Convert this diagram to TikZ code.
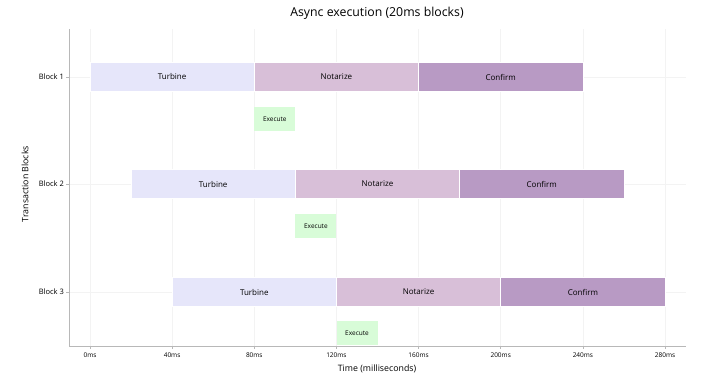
\documentclass[tikz,border=0pt]{standalone}
\usepackage{fontspec}
\setmainfont{Open Sans}
\usepackage{tikz}
\usetikzlibrary{positioning}
\definecolor{turbc}{HTML}{E6E6FA}
\definecolor{notac}{HTML}{D8BFD8}
\definecolor{confc}{HTML}{B89AC4}
\definecolor{execc}{HTML}{D8FCD8}
\definecolor{gridc}{HTML}{F3F3F3}
\definecolor{axisc}{HTML}{B8B8B8}
\tikzstyle{phase}=[draw=white, line width=.6pt, minimum height=29pt, minimum width=164.3pt, inner sep=0pt, font=\fontsize{8}{9}\selectfont]
\tikzstyle{turbine}=[phase, fill=turbc]
\tikzstyle{notarize}=[phase, fill=notac]
\tikzstyle{confirm}=[phase, fill=confc]
\tikzstyle{execbox}=[fill=execc, minimum width=41pt, minimum height=24pt, inner sep=0pt, font=\fontsize{6.5}{7}\selectfont]
\tikzstyle{tick}=[font=\fontsize{6.5}{7}\selectfont, inner sep=1pt]
\tikzstyle{rowlabel}=[font=\fontsize{7.5}{8}\selectfont, anchor=east, inner sep=1pt]

\begin{document}
\begin{tikzpicture}[x=1pt, y=-1pt]

      \useasboundingbox (0,0) rectangle (725,385);

      % grid
      \foreach \gx in {90,172.1,254.3,336.4,418.6,500.7,582.9,665}
        \draw[gridc, line width=.5pt] (\gx,29) -- (\gx,346);
      \foreach \gy in {77,184,292}
        \draw[gridc, line width=.5pt] (69,\gy) -- (686,\gy);

      % block 1
      \node[turbine] (t1) at (172.1,77) {Turbine};
      \node[notarize] (n1) at (336.4,77) {Notarize};
      \node[confirm] (c1) at (500.7,77) {Confirm};
      \node[execbox] (e1) at (274.8,119) {Execute};

      % block 2
      \node[turbine] (t2) at (213.2,184) {Turbine};
      \node[notarize] (n2) at (377.5,184) {Notarize};
      \node[confirm] (c2) at (541.8,184) {Confirm};
      \node[execbox] (e2) at (315.9,226) {Execute};

      % block 3
      \node[turbine] (t3) at (254.3,292) {Turbine};
      \node[notarize] (n3) at (418.6,292) {Notarize};
      \node[confirm] (c3) at (582.9,292) {Confirm};
      \node[execbox] (e3) at (357,333) {Execute};

      % axes
      \coordinate (o) at (69,346);
      \coordinate (ytop) at (69,29);
      \coordinate (xend) at (686,346);
      \draw[axisc, line width=.8pt] (ytop) -- (o) -- (xend);

      \foreach \gx/\lab in {90/0ms,172.1/40ms,254.3/80ms,336.4/120ms,418.6/160ms,500.7/200ms,582.9/240ms,665/280ms}
      {
        \draw[axisc, line width=.6pt] (\gx,346) -- (\gx,349);
        \node[tick] at (\gx,355) {\lab};
      }
      \foreach \gy/\lab in {77/Block 1,184/Block 2,292/Block 3}
      {
        \draw[axisc, line width=.6pt] (66,\gy) -- (69,\gy);
        \node[rowlabel] at (65,\gy) {\lab};
      }

      \node[font=\fontsize{12.3}{14}\selectfont] (title) at (377,13) {Async execution (20ms blocks)};
      \node[font=\fontsize{8.8}{10}\selectfont] (xlab) at (377,369) {Time (milliseconds)};
      \node[font=\fontsize{8.8}{10}\selectfont, rotate=90] (ylab) at (25,184) {Transaction Blocks};

    \end{tikzpicture}
\end{document}
